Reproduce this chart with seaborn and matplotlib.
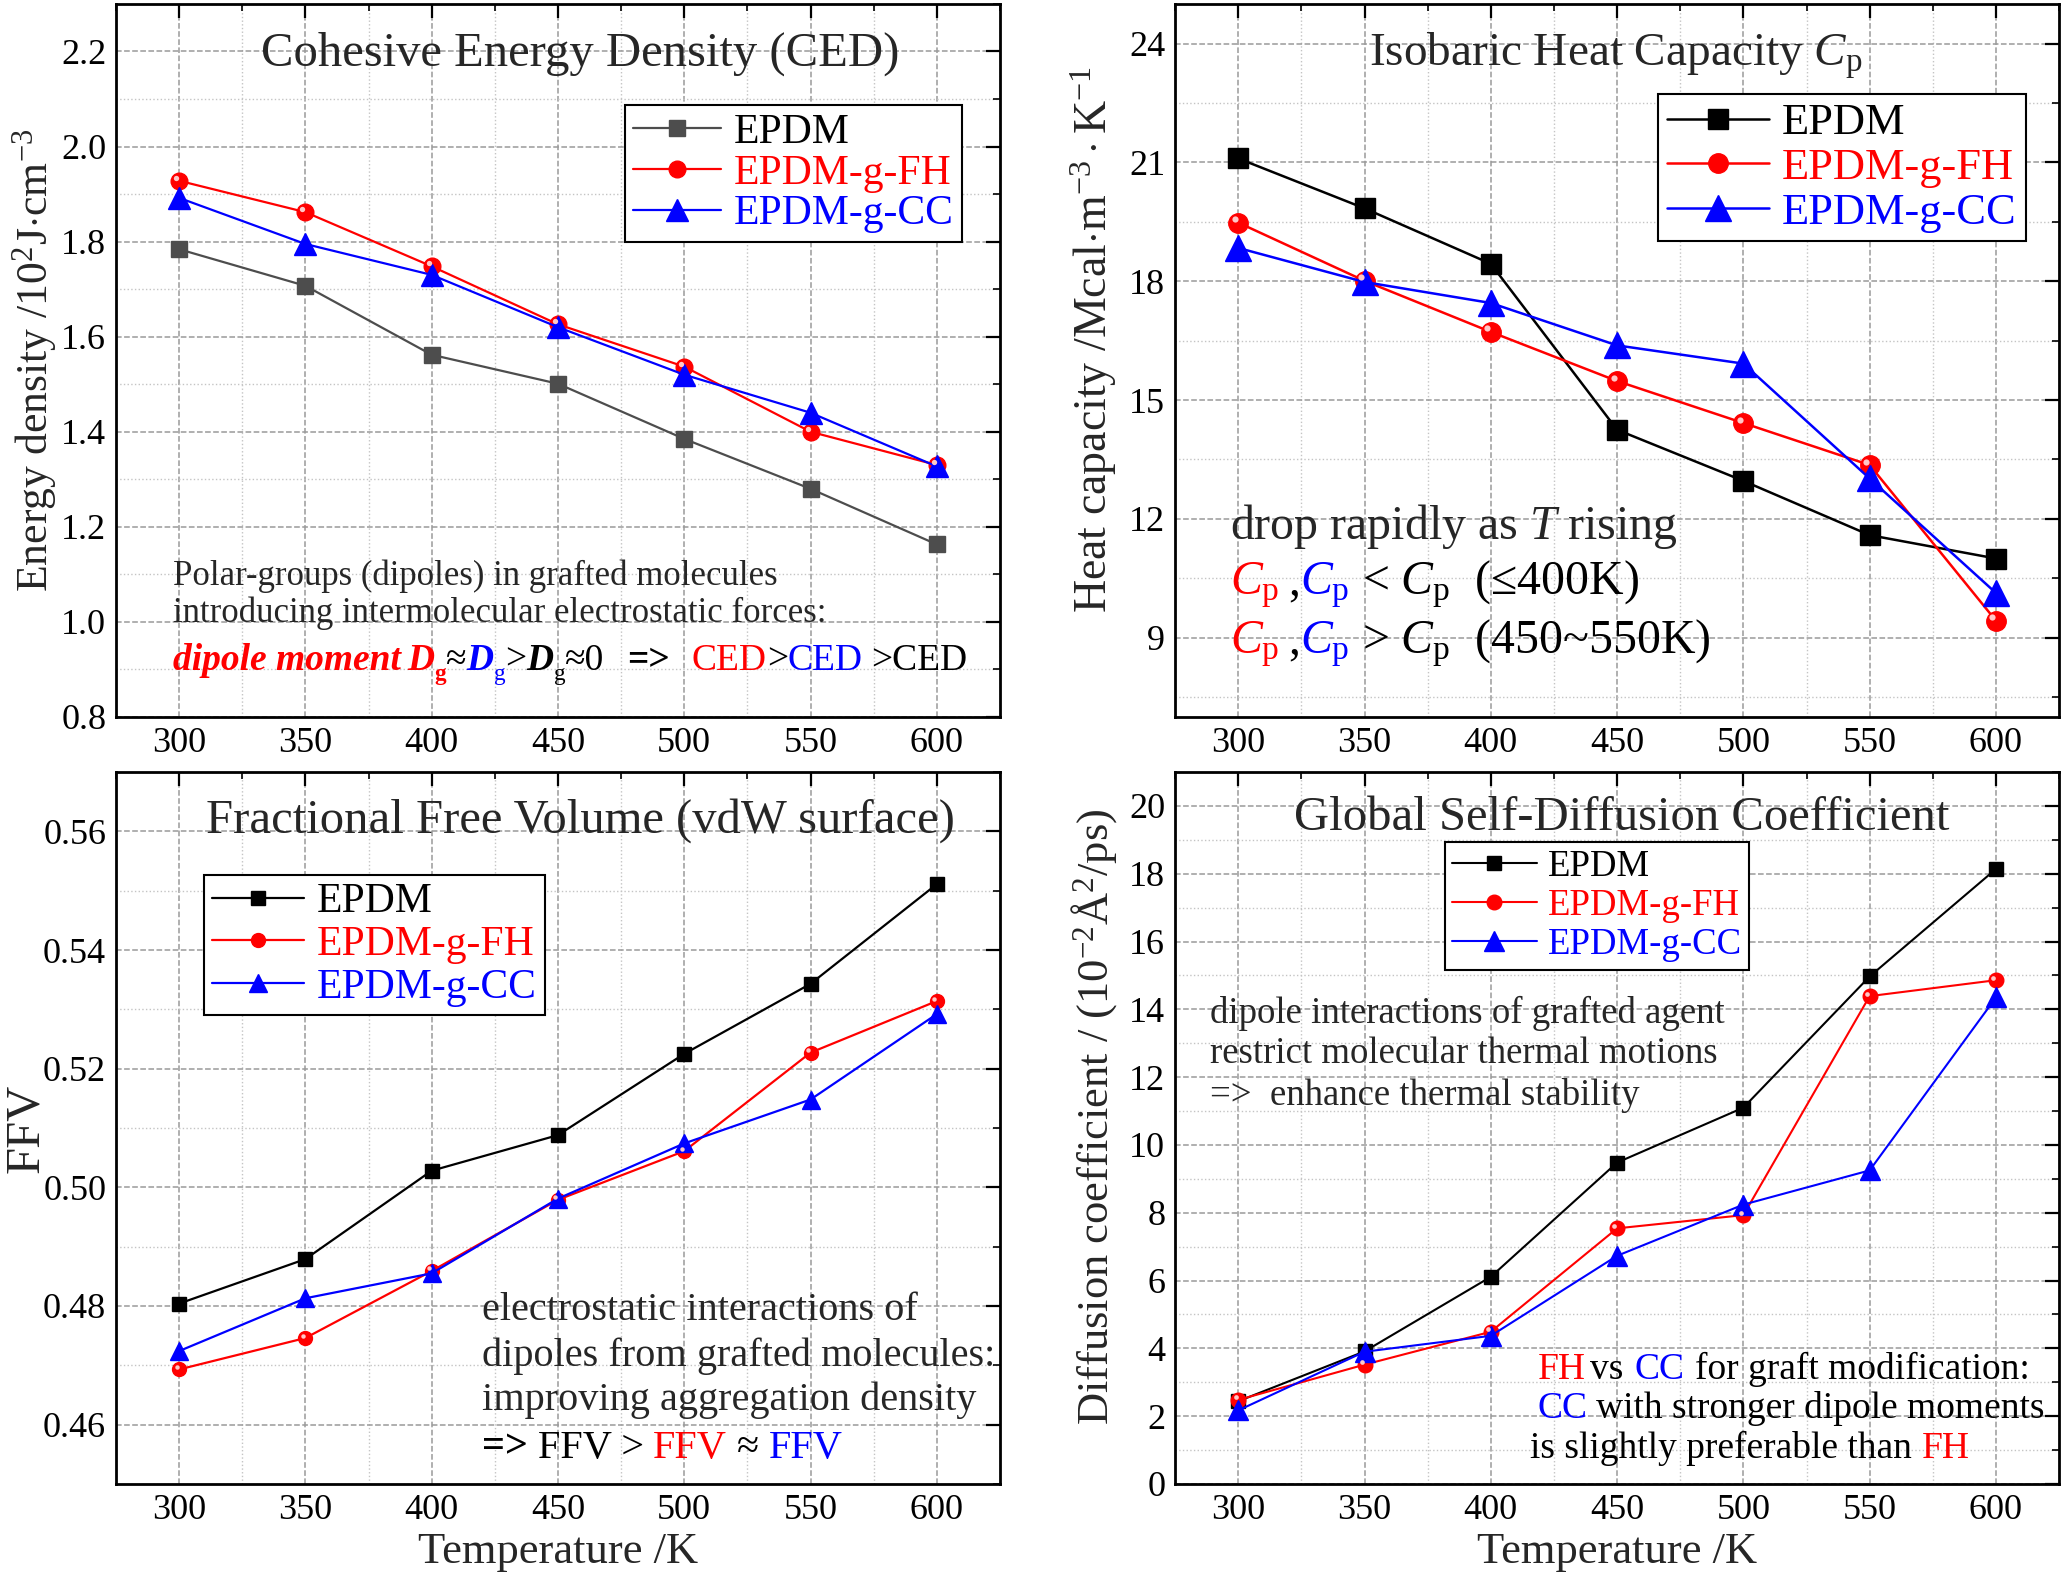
import numpy as np
import pandas as pd
import matplotlib
matplotlib.use('Agg')
import matplotlib.pyplot as plt
import seaborn as sns
from matplotlib import transforms
from matplotlib.ticker import MultipleLocator, FormatStrFormatter

# ---- data ----
temperature = [300, 350, 400, 450, 500, 550, 600]
samples = ['EPDM', 'EPDM-g-FH', 'EPDM-g-CC']

ced_epdm = [1.784, 1.707, 1.562, 1.501, 1.385, 1.280, 1.163]
ced_fh = [1.928, 1.862, 1.748, 1.626, 1.537, 1.400, 1.330]
ced_cc = [1.892, 1.795, 1.730, 1.620, 1.520, 1.440, 1.327]

cp_epdm = [21.10, 19.84, 18.44, 14.25, 12.96, 11.59, 11.00]
cp_fh = [19.48, 18.01, 16.72, 15.48, 14.42, 13.36, 9.43]
cp_cc = [18.84, 17.98, 17.45, 16.38, 15.92, 13.02, 10.13]

ffv_epdm = [0.4804, 0.4879, 0.5028, 0.5088, 0.5225, 0.5343, 0.5511]
ffv_fh = [0.4693, 0.4746, 0.4859, 0.4979, 0.5061, 0.5227, 0.5314]
ffv_cc = [0.4724, 0.4813, 0.4855, 0.4981, 0.5074, 0.5148, 0.5292]

diff_epdm = [2.44, 3.91, 6.11, 9.48, 11.10, 14.97, 18.14]
diff_fh = [2.48, 3.52, 4.49, 7.54, 7.93, 14.39, 14.86]
diff_cc = [2.17, 3.90, 4.37, 6.73, 8.24, 9.25, 14.35]

RED = '#ff0000'
BLUE = '#0000ff'
markers = {'EPDM': 's', 'EPDM-g-FH': 'o', 'EPDM-g-CC': '^'}

sns.set_theme(style='white')
plt.rcParams['font.family'] = ['Liberation Serif', 'DejaVu Serif']
plt.rcParams['mathtext.fontset'] = 'custom'
plt.rcParams['mathtext.rm'] = 'Liberation Serif'
plt.rcParams['mathtext.it'] = 'Liberation Serif:italic'
plt.rcParams['mathtext.bf'] = 'Liberation Serif:bold'
plt.rcParams['axes.edgecolor'] = 'black'
plt.rcParams['axes.linewidth'] = 2.0


def to_long(epdm, fh, cc):
    return pd.DataFrame({
        'T': temperature * 3,
        'value': epdm + fh + cc,
        'sample': np.repeat(samples, len(temperature)),
    })


def draw_panel(ax, df, colors, ms, lw):
    sns.lineplot(data=df, x='T', y='value', hue='sample', style='sample',
                 hue_order=samples, style_order=samples, palette=colors,
                 markers=markers, dashes=False, markersize=ms, linewidth=lw,
                 legend=False, ax=ax)
    for line in ax.lines:
        line.set_markeredgecolor(line.get_color())
        line.set_markeredgewidth(1.0)
    # triangles look a bit bigger than the other markers in the original
    ax.lines[2].set_markersize(ms * 1.35)
    # small highlight on the red balls
    fh = df[df['sample'] == 'EPDM-g-FH']
    hl = transforms.offset_copy(ax.transData, fig=ax.figure, x=-ms * 0.18, y=ms * 0.18, units='points')
    ax.plot(fh['T'], fh['value'], 'o', ms=ms * 0.32, color='#ffc8c8', mew=0,
            transform=hl, zorder=5)


def style_axes(ax, ylim, ymajor, yminor, yfmt):
    ax.set_xlim(275, 625)
    ax.set_ylim(*ylim)
    ax.xaxis.set_major_locator(MultipleLocator(50))
    ax.xaxis.set_minor_locator(MultipleLocator(25))
    ax.yaxis.set_major_locator(MultipleLocator(ymajor))
    ax.yaxis.set_minor_locator(MultipleLocator(yminor))
    ax.yaxis.set_major_formatter(FormatStrFormatter(yfmt))
    ax.grid(which='major', ls='--', color='#9a9a9a', lw=1.1)
    ax.grid(which='minor', ls=':', color='#c4c4c4', lw=1.0)
    ax.set_axisbelow(True)
    ax.tick_params(which='both', direction='in', top=True, right=True,
                   labelsize=26, colors='black')
    ax.tick_params(which='major', length=10, width=1.6, pad=7)
    ax.tick_params(which='minor', length=5, width=1.2)
    ax.set_xlabel('')
    for s in ax.spines.values():
        s.set_visible(True)
        s.set_color('black')
        s.set_linewidth(2.0)


def add_legend(ax, colors, anchor, size, hlen, spacing=0.1):
    leg = ax.legend(ax.lines[:3], samples, loc='upper left', bbox_to_anchor=anchor,
                    borderaxespad=0, fontsize=size, frameon=True, fancybox=False,
                    edgecolor='black', handlelength=hlen, labelspacing=spacing,
                    borderpad=0.2, handletextpad=0.3, framealpha=1)
    leg.get_frame().set_linewidth(1.5)
    for txt, c in zip(leg.get_texts(), colors):
        txt.set_color(c)


def color_text(ax, x, y, parts, size):
    # pieces of text in different colours laid out on one baseline
    fig = ax.figure
    r = fig.canvas.get_renderer()
    off = 0.0
    for p in parts:
        s, c = p[0], p[1]
        o = p[2] if len(p) > 2 else {}
        tr = transforms.offset_copy(ax.transAxes, fig=fig, x=off, y=o.get('dy', 0), units='points')
        t = ax.text(x, y, s, transform=tr, color=c, fontsize=size * o.get('scale', 1),
                    fontweight=o.get('weight', 'normal'), fontstyle=o.get('style', 'normal'),
                    va='baseline', ha='left')
        off += t.get_window_extent(r).width * 72 / fig.dpi + o.get('gap', 1)


fig = plt.figure(figsize=(20.63, 15.74), dpi=100)
ax1 = fig.add_axes([0.0562, 0.5445, 0.4285, 0.4530])
ax2 = fig.add_axes([0.5696, 0.5445, 0.4285, 0.4530])
ax3 = fig.add_axes([0.0562, 0.0572, 0.4285, 0.4523])
ax4 = fig.add_axes([0.5696, 0.0572, 0.4285, 0.4523])

# ---- panel 1: CED ----
c1 = ['#4d4d4d', RED, BLUE]
draw_panel(ax1, to_long(ced_epdm, ced_fh, ced_cc), c1, 12, 1.6)
style_axes(ax1, (0.8, 2.3), 0.2, 0.1, '%.1f')
ax1.set_ylabel(r'Energy density /10$^2$J$\cdot$cm$^{-3}$', fontsize=31.5)
ax1.yaxis.set_label_coords(-0.064, 0.5)
ax1.text(0.525, 0.913, 'Cohesive Energy Density (CED)', transform=ax1.transAxes,
         ha='center', va='baseline', fontsize=35)
add_legend(ax1, ['black', RED, BLUE], (0.576, 0.858), 30, 2.1, 0.05)
ax1.text(0.064, 0.185, 'Polar-groups (dipoles) in grafted molecules', transform=ax1.transAxes,
         fontsize=25, va='baseline')
ax1.text(0.064, 0.133, 'introducing intermolecular electrostatic forces:', transform=ax1.transAxes,
         fontsize=25, va='baseline')
bi = dict(weight='bold', style='italic', gap=0)
sub = dict(scale=0.62, dy=-7, gap=0)
color_text(ax1, 0.064, 0.066, [
    ('dipole moment', RED, dict(weight='bold', style='italic', gap=5)),
    ('D', RED, bi), ('g', RED, dict(sub, weight='bold')),
    ('≈', 'black', dict(gap=0)),
    ('D', BLUE, bi), ('g', BLUE, sub),
    ('>', 'black', dict(gap=0)),
    ('D', 'black', bi), ('g', 'black', sub),
    ('≈0', 'black', dict(gap=16)),
    ('=>', 'black', dict(weight='bold', gap=16)),
    ('CED', RED, dict(gap=0)), ('>', 'black', dict(gap=0)),
    ('CED', BLUE, dict(gap=6)), ('>CED', 'black'),
], 27)

# ---- panel 2: Cp ----
c2 = ['black', RED, BLUE]
draw_panel(ax2, to_long(cp_epdm, cp_fh, cp_cc), c2, 14, 1.8)
style_axes(ax2, (7, 25), 3, 1.5, '%d')
ax2.set_ylabel(r'Heat capacity /Mcal$\cdot$m$^{-3}\cdot$K$^{-1}$', fontsize=33)
ax2.yaxis.set_label_coords(-0.063, 0.53)
ax2.text(0.499, 0.913, r'Isobaric Heat Capacity $C_\mathrm{p}$', transform=ax2.transAxes,
         ha='center', va='baseline', fontsize=34)
add_legend(ax2, c2, (0.546, 0.873), 32, 2.3)
ax2.text(0.0625, 0.249, r'drop rapidly as $T$ rising', transform=ax2.transAxes,
         fontsize=34.5, va='baseline')
color_text(ax2, 0.0625, 0.172, [
    (r'$C_\mathrm{p}$', RED, dict(gap=6)), (',', 'black', dict(gap=0)),
    (r'$C_\mathrm{p}$', BLUE, dict(gap=9)),
    (r'< $C_\mathrm{p}$  (≤400K)', 'black'),
], 34.5)
color_text(ax2, 0.0625, 0.089, [
    (r'$C_\mathrm{p}$', RED, dict(gap=6)), (',', 'black', dict(gap=0)),
    (r'$C_\mathrm{p}$', BLUE, dict(gap=9)),
    (r'> $C_\mathrm{p}$  (450~550K)', 'black'),
], 34.5)

# ---- panel 3: FFV ----
draw_panel(ax3, to_long(ffv_epdm, ffv_fh, ffv_cc), c2, 10, 1.6)
style_axes(ax3, (0.45, 0.57), 0.02, 0.01, '%.2f')
ax3.set_ylabel('FFV', fontsize=35)
ax3.yaxis.set_label_coords(-0.077, 0.5)
ax3.set_xlabel('Temperature /K', fontsize=32, labelpad=4)
ax3.text(0.525, 0.915, 'Fractional Free Volume (vdW surface)', transform=ax3.transAxes,
         ha='center', va='baseline', fontsize=35)
add_legend(ax3, c2, (0.0997, 0.856), 30, 2.2)
for yy, s in zip([0.231, 0.166, 0.104],
                 ['electrostatic interactions of', 'dipoles from grafted molecules:',
                  'improving aggregation density']):
    ax3.text(0.414, yy, s, transform=ax3.transAxes, fontsize=29, va='baseline')
color_text(ax3, 0.414, 0.037, [
    ('=>', 'black', dict(weight='bold', gap=7)),
    ('FFV >', 'black', dict(gap=7)),
    ('FFV', RED, dict(gap=7)), ('≈', 'black', dict(gap=7)),
    ('FFV', BLUE),
], 29)

# ---- panel 4: diffusion ----
draw_panel(ax4, to_long(diff_epdm, diff_fh, diff_cc), c2, 10.5, 1.5)
style_axes(ax4, (0, 21), 2, 1, '%d')
ax4.set_ylabel(r'Diffusion coefficient / (10$^{-2}$Å$^2$/ps)', fontsize=32)
ax4.yaxis.set_label_coords(-0.063, 0.515)
ax4.set_xlabel('Temperature /K', fontsize=32, labelpad=4)
ax4.text(0.505, 0.919, 'Global Self-Diffusion Coefficient', transform=ax4.transAxes,
         ha='center', va='baseline', fontsize=35)
add_legend(ax4, c2, (0.305, 0.902), 26.5, 2.3, 0.13)
for yy, s in zip([0.647, 0.591, 0.532],
                 ['dipole interactions of grafted agent', 'restrict molecular thermal motions',
                  '=>  enhance thermal stability']):
    ax4.text(0.04, yy, s, transform=ax4.transAxes, fontsize=26.5, va='baseline')
color_text(ax4, 0.410, 0.148, [
    ('FH', RED, dict(gap=3)), ('vs', 'black', dict(gap=8)),
    ('CC', BLUE, dict(gap=8)), ('for graft modification:', 'black'),
], 27)
color_text(ax4, 0.410, 0.092, [
    ('CC', BLUE, dict(gap=6)), ('with stronger dipole moments', 'black'),
], 27)
color_text(ax4, 0.402, 0.037, [
    ('is slightly preferable than', 'black', dict(gap=7)), ('FH', RED),
], 27)

fig.savefig('out.png', dpi=100)
